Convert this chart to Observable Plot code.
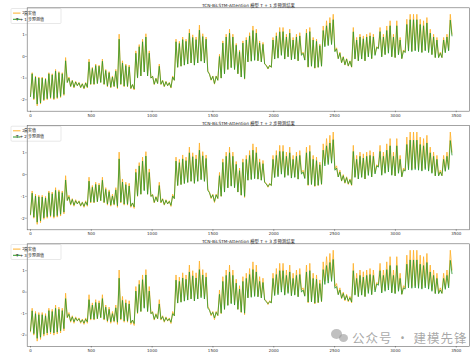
<!DOCTYPE html>
<html><head><meta charset="utf-8">
<script src="https://cdn.jsdelivr.net/npm/d3@7"></script>
<script src="https://cdn.jsdelivr.net/npm/@observablehq/plot@0.6"></script>
<style>
body{margin:0;background:#fff;}
#wrap{position:relative;width:474px;height:355px;overflow:hidden;font-family:"DejaVu Sans","Noto Sans CJK SC",sans-serif;}
.panel{position:absolute;left:0;}
#wm{position:absolute;left:352px;top:328px;font-family:"Noto Sans CJK SC",sans-serif;font-size:12.5px;letter-spacing:1px;color:rgba(140,140,140,0.75);white-space:nowrap;}
.ic{position:absolute;border-radius:50%;background:rgba(150,150,150,0.6);}
</style></head><body><div id="wrap"></div>
<script>
// time-index spacing of the keypoints
const step = 13.75;
const truth = [
-1.85,-0.75,-2.0,-0.9,-2.28,-0.95,-2.2,-0.95,-2.05,-1.0,
-2.0,-0.75,-1.95,-0.8,-2.0,-0.6,-1.95,-0.7,-1.9,-0.75,
-1.8,-0.05,-1.2,-0.95,-1.4,-1.1,-1.45,-1.15,-1.35,-1.2,
-1.45,-1.25,-1.5,-1.2,-1.45,-0.12,-1.3,-0.5,-1.3,-0.35,
-1.25,-0.4,-1.2,-0.12,-1.3,-0.6,-1.4,-0.7,-1.45,-0.9,
-1.4,-0.6,-1.5,1.03,-1.3,-0.2,-1.4,-0.35,-1.4,-0.4,
-1.5,-1.3,-1.55,0.26,-1.0,0.55,-0.9,0.8,-0.7,1.05,
-0.9,0.26,-1.0,-0.9,-1.3,-1.0,-1.25,-0.35,-1.3,-1.1,
-1.4,-1.15,-1.35,-1.2,-1.46,-0.9,-1.1,0.8,-0.5,0.7,
-0.45,0.9,-0.4,0.8,-0.35,1.26,-0.3,1.0,-0.4,0.9,
-0.3,1.45,-0.2,1.05,-0.3,0.9,-0.66,-0.8,-1.1,-0.9,
-1.28,-0.9,-1.1,0.1,-1.0,0.72,-0.8,1.03,-0.6,1.26,
-0.5,1.03,-0.6,0.6,-0.8,0.3,-0.95,0.72,-1.05,0.88,
-0.25,1.1,-0.2,1.41,-0.15,1.26,-0.2,0.72,-0.25,0.65,
-0.35,-0.4,-0.58,-0.4,-0.5,0.88,-0.1,1.1,-0.05,1.34,
0.1,1.34,-0.1,1.03,0.0,1.26,-0.15,0.88,-0.1,1.03,
-0.2,1.1,0.1,0.2,-0.15,1.26,-0.5,1.34,-0.45,0.88,
-0.55,0.8,-0.5,0.57,-0.45,1.41,0.5,1.65,0.55,1.8,
0.6,1.95,0.26,0.4,-0.1,0.2,-0.3,0.0,-0.4,-0.1,
-0.45,-0.2,-0.5,1.34,-0.1,0.88,-0.2,1.03,-0.1,0.95,
-0.2,1.03,0.0,1.1,-0.1,1.03,0.1,0.45,0.38,1.34,
0.0,1.03,0.1,1.41,0.2,1.65,0.0,1.03,-0.05,1.65,
0.1,0.88,-0.1,0.3,0.2,1.72,0.3,1.95,0.25,1.95,
0.3,1.95,0.25,1.72,0.2,1.65,0.3,1.8,0.2,1.26,
0.1,1.03,-0.05,0.88,-0.05,0.2,-0.05,0.88,0.2,1.03,
0.3,1.95,1.03];
const pred1 = [
-1.85,-0.8,-1.95,-0.95,-2.2,-1.0,-2.15,-1.0,-2.0,-1.05,
-1.95,-0.8,-1.9,-0.85,-1.95,-0.68,-1.9,-0.75,-1.85,-0.8,
-1.75,-0.2,-1.2,-1.0,-1.38,-1.12,-1.42,-1.18,-1.35,-1.22,
-1.43,-1.27,-1.47,-1.23,-1.42,-0.25,-1.28,-0.55,-1.28,-0.42,
-1.25,-0.45,-1.2,-0.22,-1.28,-0.65,-1.37,-0.75,-1.42,-0.95,
-1.38,-0.68,-1.45,0.8,-1.28,-0.3,-1.37,-0.42,-1.38,-0.48,
-1.47,-1.3,-1.5,0.15,-0.98,0.45,-0.9,0.68,-0.72,0.9,
-0.9,0.15,-1.0,-0.92,-1.28,-1.02,-1.25,-0.45,-1.28,-1.12,
-1.38,-1.17,-1.35,-1.22,-1.43,-0.95,-1.1,0.68,-0.5,0.6,
-0.45,0.78,-0.4,0.7,-0.35,1.08,-0.3,0.88,-0.4,0.78,
-0.3,1.22,-0.22,0.92,-0.3,0.8,-0.7,-0.82,-1.08,-0.92,
-1.25,-0.92,-1.1,0.0,-1.0,0.62,-0.8,0.9,-0.6,1.08,
-0.52,0.9,-0.6,0.52,-0.8,0.22,-0.95,0.62,-1.02,0.76,
-0.25,0.95,-0.22,1.2,-0.18,1.08,-0.2,0.62,-0.25,0.56,
-0.35,-0.42,-0.56,-0.42,-0.5,0.76,-0.12,0.95,-0.08,1.14,
0.05,1.15,-0.12,0.9,-0.02,1.08,-0.15,0.76,-0.12,0.9,
-0.2,0.95,0.05,0.15,-0.17,1.08,-0.48,1.15,-0.45,0.76,
-0.53,0.7,-0.5,0.5,-0.45,1.2,0.45,1.42,0.5,1.55,
0.55,1.7,0.22,0.35,-0.1,0.15,-0.28,-0.03,-0.38,-0.12,
-0.43,-0.22,-0.48,1.14,-0.12,0.76,-0.2,0.9,-0.12,0.82,
-0.2,0.9,-0.02,0.95,-0.1,0.9,0.05,0.42,0.36,1.15,
-0.02,0.9,0.08,1.2,0.15,1.42,-0.02,0.9,-0.05,1.42,
0.08,0.76,-0.1,0.26,0.18,1.48,0.25,1.7,0.22,1.7,
0.26,1.7,0.22,1.48,0.18,1.42,0.26,1.55,0.18,1.08,
0.08,0.9,-0.05,0.76,-0.05,0.15,-0.05,0.76,0.17,0.9,
0.26,1.68,0.95];
const pred2 = [
-1.82,-0.85,-1.95,-0.98,-2.18,-1.02,-2.12,-1.03,-1.98,-1.07,
-1.93,-0.83,-1.88,-0.88,-1.93,-0.72,-1.88,-0.78,-1.82,-0.83,
-1.72,-0.25,-1.18,-1.02,-1.36,-1.14,-1.4,-1.2,-1.34,-1.23,
-1.42,-1.28,-1.45,-1.25,-1.4,-0.3,-1.26,-0.58,-1.27,-0.45,
-1.24,-0.48,-1.19,-0.26,-1.27,-0.68,-1.35,-0.78,-1.4,-0.98,
-1.36,-0.7,-1.43,0.72,-1.26,-0.34,-1.35,-0.46,-1.36,-0.52,
-1.45,-1.3,-1.48,0.1,-0.97,0.4,-0.9,0.62,-0.74,0.85,
-0.9,0.1,-1.0,-0.93,-1.27,-1.03,-1.24,-0.5,-1.27,-1.13,
-1.37,-1.18,-1.34,-1.23,-1.41,-0.98,-1.1,0.62,-0.5,0.55,
-0.46,0.72,-0.41,0.64,-0.36,1.0,-0.31,0.82,-0.4,0.72,
-0.31,1.12,-0.24,0.86,-0.31,0.74,-0.72,-0.83,-1.06,-0.93,
-1.23,-0.93,-1.09,-0.05,-0.99,0.56,-0.8,0.84,-0.61,1.0,
-0.53,0.84,-0.6,0.47,-0.8,0.18,-0.94,0.56,-1.0,0.7,
-0.26,0.88,-0.23,1.12,-0.19,1.0,-0.21,0.56,-0.26,0.5,
-0.36,-0.43,-0.55,-0.43,-0.5,0.7,-0.14,0.88,-0.1,1.06,
0.02,1.06,-0.13,0.84,-0.04,1.0,-0.16,0.7,-0.13,0.84,
-0.21,0.88,0.02,0.12,-0.18,1.0,-0.47,1.06,-0.45,0.7,
-0.52,0.64,-0.49,0.45,-0.44,1.12,0.4,1.32,0.46,1.45,
0.52,1.6,0.2,0.3,-0.11,0.12,-0.28,-0.05,-0.37,-0.14,
-0.42,-0.24,-0.47,1.06,-0.13,0.7,-0.2,0.84,-0.13,0.76,
-0.2,0.84,-0.04,0.88,-0.11,0.84,0.03,0.4,0.34,1.06,
-0.03,0.84,0.06,1.12,0.12,1.32,-0.03,0.84,-0.06,1.32,
0.06,0.7,-0.1,0.22,0.16,1.38,0.22,1.58,0.2,1.58,
0.23,1.58,0.2,1.38,0.16,1.32,0.23,1.45,0.16,1.0,
0.06,0.84,-0.06,0.7,-0.06,0.12,-0.05,0.7,0.15,0.84,
0.23,1.56,0.9];
const pred3 = [
-1.8,-0.87,-1.93,-1.0,-2.15,-1.05,-2.1,-1.05,-1.96,-1.1,
-1.9,-0.86,-1.86,-0.9,-1.9,-0.75,-1.86,-0.8,-1.8,-0.86,
-1.7,-0.3,-1.17,-1.03,-1.35,-1.15,-1.38,-1.2,-1.33,-1.24,
-1.4,-1.29,-1.44,-1.26,-1.38,-0.35,-1.25,-0.6,-1.26,-0.48,
-1.23,-0.5,-1.18,-0.3,-1.26,-0.7,-1.34,-0.8,-1.38,-1.0,
-1.35,-0.73,-1.4,0.65,-1.25,-0.38,-1.34,-0.5,-1.35,-0.55,
-1.43,-1.3,-1.46,0.05,-0.96,0.36,-0.9,0.58,-0.75,0.8,
-0.9,0.05,-1.0,-0.94,-1.26,-1.04,-1.23,-0.55,-1.26,-1.14,
-1.36,-1.19,-1.33,-1.24,-1.4,-1.0,-1.1,0.56,-0.51,0.5,
-0.47,0.66,-0.42,0.6,-0.37,0.94,-0.32,0.76,-0.41,0.66,
-0.32,1.05,-0.26,0.8,-0.32,0.7,-0.74,-0.84,-1.05,-0.94,
-1.2,-0.94,-1.08,-0.1,-0.98,0.5,-0.8,0.78,-0.62,0.94,
-0.54,0.78,-0.6,0.42,-0.8,0.14,-0.93,0.5,-0.98,0.64,
-0.27,0.82,-0.24,1.05,-0.2,0.94,-0.22,0.5,-0.27,0.45,
-0.37,-0.44,-0.54,-0.44,-0.5,0.64,-0.16,0.82,-0.12,1.0,
0.0,1.0,-0.14,0.78,-0.06,0.94,-0.17,0.64,-0.14,0.78,
-0.22,0.82,0.0,0.1,-0.19,0.94,-0.46,1.0,-0.45,0.64,
-0.51,0.6,-0.48,0.4,-0.43,1.05,0.36,1.24,0.42,1.38,
0.5,1.52,0.18,0.26,-0.12,0.1,-0.28,-0.06,-0.36,-0.16,
-0.41,-0.26,-0.46,1.0,-0.14,0.64,-0.21,0.78,-0.14,0.7,
-0.21,0.78,-0.06,0.82,-0.12,0.78,0.01,0.38,0.32,1.0,
-0.04,0.78,0.04,1.05,0.1,1.24,-0.04,0.78,-0.07,1.24,
0.04,0.64,-0.1,0.2,0.14,1.3,0.2,1.5,0.18,1.5,
0.2,1.5,0.18,1.3,0.14,1.24,0.2,1.38,0.14,0.94,
0.04,0.78,-0.07,0.64,-0.07,0.1,-0.06,0.64,0.13,0.78,
0.2,1.48,0.86];
const predictions = [pred1, pred2, pred3];
const xTicks = [0, 500, 1000, 1500, 2000, 2500, 3000, 3500];
const yTicks = [-2, -1, 0, 1, 2];
const titles = [
  "TCN-BiLSTM-Attention 模型 T + 1 步预测结果",
  "TCN-BiLSTM-Attention 模型 T + 2 步预测结果",
  "TCN-BiLSTM-Attention 模型 T + 3 步预测结果"];
const trueLabel = "真实值";
const predLabels = ["T + 1 步预测值", "T + 2 步预测值", "T + 3 步预测值"];
const watermark = "公众号 · 建模先锋";

const TRUE_COLOR = "#ffb12a", PRED_COLOR = "#2a962a";
const layout = [
  {top: 0, height: 118, mt: 7.3, mb: 7.3},
  {top: 118, height: 118, mt: 7, mb: 6.7},
  {top: 236, height: 119, mt: 7.3, mb: 9}
];
const wrap = document.getElementById("wrap");
const FONT = '"DejaVu Sans","Noto Sans CJK SC",sans-serif';

layout.forEach((L, k) => {
  const pred = predictions[k];
  const rows = truth.map((v, i) => ({t: i * step, v, p: pred[i]})).filter(d => d.p != null);
  const chart = Plot.plot({
    width: 474, height: L.height,
    marginLeft: 26.7, marginRight: 5, marginTop: L.mt, marginBottom: L.mb,
    style: {fontFamily: FONT, background: "#fff", overflow: "visible"},
    x: {domain: [-27, 3609]},
    y: {domain: [-2.53, 2.25]},
    marks: [
      Plot.line(rows, {x: "t", y: "v", stroke: TRUE_COLOR, strokeWidth: 0.85}),
      Plot.line(rows, {x: "t", y: "p", stroke: PRED_COLOR, strokeWidth: 0.8}),
      Plot.frame({stroke: "#666", strokeWidth: 0.6}),
      Plot.axisX({ticks: xTicks, tickSize: 1.5, tickPadding: 1, fontSize: 4, label: null, stroke: "#444", strokeWidth: 0.5, fill: "#333", tickFormat: d => String(d)}),
      Plot.axisY({ticks: yTicks, tickSize: 1.5, tickPadding: 1, fontSize: 4, label: null, stroke: "#444", strokeWidth: 0.5, fill: "#333", tickFormat: d => String(d)}),
      Plot.text([titles[k]], {frameAnchor: "top", dy: -3.8, fontSize: 4.3, fill: "#222", text: d => d})
    ]
  });
  chart.classList.add("panel");
  chart.style.top = L.top + "px";
  wrap.appendChild(chart);

  // legend (upper left), drawn beneath the axes so the tick labels stay readable
  const svg = d3.select(chart);
  const g = svg.insert("g", "g").attr("font-size", 4).attr("font-family", FONT);
  const lx = 11, ly = L.mt + 1.2;
  g.append("rect").attr("x", lx).attr("y", ly).attr("width", 50).attr("height", 15)
    .attr("rx", 1).attr("fill", "rgba(255,255,255,0.85)").attr("stroke", "#d0d0d0").attr("stroke-width", 0.5);
  [[trueLabel, TRUE_COLOR], [predLabels[k], PRED_COLOR]].forEach(([lab, col], j) => {
    const yy = ly + 4.6 + j * 6.2;
    g.append("line").attr("x1", lx + 2).attr("x2", lx + 9.5).attr("y1", yy).attr("y2", yy)
      .attr("stroke", col).attr("stroke-width", 1);
    g.append("text").attr("x", lx + 19).attr("y", yy).attr("dy", "0.35em").attr("fill", "#222").text(lab);
  });
});

// watermark
const wm = document.createElement("div");
wm.id = "wm"; wm.textContent = watermark;
wrap.appendChild(wm);
[[331, 329, 11, 10], [339, 334, 9, 8]].forEach(([x, y, w, h]) => {
  const c = document.createElement("div");
  c.className = "ic";
  Object.assign(c.style, {left: x + "px", top: y + "px", width: w + "px", height: h + "px"});
  wrap.appendChild(c);
});
</script>
</body></html>
